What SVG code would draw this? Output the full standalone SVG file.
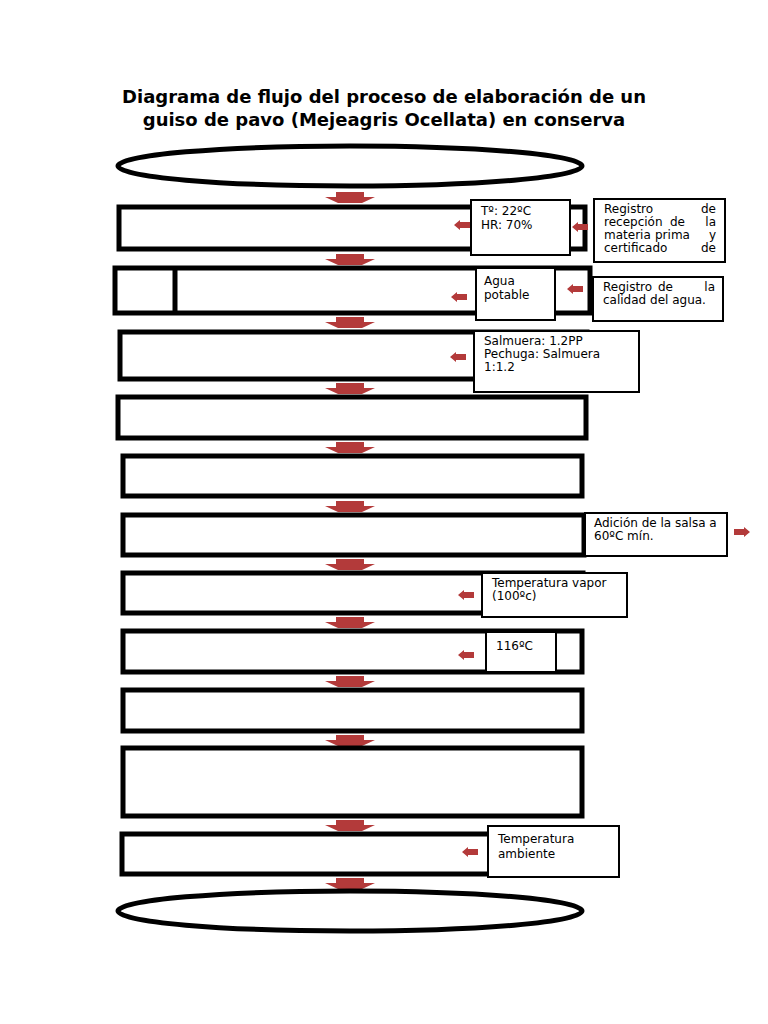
<svg xmlns="http://www.w3.org/2000/svg" width="768" height="1024" viewBox="0 0 768 1024">
<defs>
<style>
.t{font-family:"DejaVu Sans",sans-serif;font-size:12px;fill:#000}
.h{font-family:"DejaVu Sans",sans-serif;font-size:18px;font-weight:bold;fill:#000;text-anchor:middle}
.b{fill:#fff;stroke:#000;stroke-width:5}
.s{fill:#fff;stroke:#000;stroke-width:2}
.a{fill:#b33a3a}
</style>
<path id="dn" class="a" d="M-14,-5 H14 V0 H25 L12,6 H-12 L-25,0 H-14 Z"/>
<path id="lf" class="a" d="M8,-3 V3 H-2 V5 L-8,0 L-2,-5 V-3 Z"/>
</defs>
<rect width="768" height="1024" fill="#fff"/>
<text class="h" x="384" y="103">Diagrama de flujo del proceso de elaboración de un</text>
<text class="h" x="384" y="126">guiso de pavo (Mejeagris Ocellata) en conserva</text>
<g id="connectors">
<use href="#dn" x="350" y="197"/><use href="#dn" x="350" y="259"/><use href="#dn" x="350" y="322"/>
<use href="#dn" x="350" y="388"/><use href="#dn" x="350" y="447"/><use href="#dn" x="350" y="506"/>
<use href="#dn" x="350" y="564"/><use href="#dn" x="350" y="622"/><use href="#dn" x="350" y="681"/>
<use href="#dn" x="350" y="740"/><use href="#dn" x="350" y="825"/><use href="#dn" x="350" y="883"/>
</g>
<g id="n1"><ellipse class="b" cx="350" cy="166" rx="232" ry="20"/></g>
<g id="n2"><rect class="b" x="119" y="207" width="466" height="42"/></g>
<g id="n3"><rect class="b" x="115" y="268" width="475" height="45"/><line x1="175" y1="268" x2="175" y2="313" stroke="#000" stroke-width="5"/></g>
<g id="n4"><rect class="b" x="120" y="332" width="467" height="47"/></g>
<g id="n5"><rect class="b" x="118" y="397" width="468" height="41"/></g>
<g id="n6"><rect class="b" x="123" y="456" width="459" height="40"/></g>
<g id="n7"><rect class="b" x="123" y="515" width="461" height="40"/></g>
<g id="n8"><rect class="b" x="123" y="573" width="460" height="40"/></g>
<g id="n9"><rect class="b" x="123" y="631" width="459" height="41"/></g>
<g id="n10"><rect class="b" x="123" y="690" width="459" height="41"/></g>
<g id="n11"><rect class="b" x="123" y="748" width="459" height="68"/></g>
<g id="n12"><rect class="b" x="122" y="834" width="460" height="40"/></g>
<g id="n13"><ellipse class="b" cx="350" cy="911" rx="232" ry="20"/></g>
<g id="s1"><rect class="s" x="471" y="200" width="99" height="55"/><text class="t" x="481" y="215">Tº: 22ºC</text><text class="t" x="481" y="229">HR: 70%</text></g>
<g id="s2"><rect class="s" x="594" y="199" width="131" height="63"/>
<text class="t" x="604" y="213">Registro</text><text class="t" x="716" y="213" text-anchor="end">de</text>
<text class="t" x="604" y="226">recepción</text><text class="t" x="670" y="226">de</text><text class="t" x="716" y="226" text-anchor="end">la</text>
<text class="t" x="604" y="239">materia</text><text class="t" x="655" y="239">prima</text><text class="t" x="716" y="239" text-anchor="end">y</text>
<text class="t" x="604" y="252">certificado</text><text class="t" x="716" y="252" text-anchor="end">de</text></g>
<g id="s3"><rect class="s" x="476" y="268" width="79" height="52"/><text class="t" x="484" y="285">Agua</text><text class="t" x="484" y="299">potable</text></g>
<g id="s4"><rect class="s" x="593" y="277" width="130" height="44"/>
<text class="t" x="603" y="291">Registro</text><text class="t" x="658" y="291">de</text><text class="t" x="715" y="291" text-anchor="end">la</text>
<text class="t" x="603" y="304">calidad del agua.</text></g>
<g id="s5"><rect class="s" x="474" y="331" width="165" height="61"/>
<text class="t" x="484" y="345">Salmuera: 1.2PP</text><text class="t" x="484" y="358">Pechuga: Salmuera</text><text class="t" x="484" y="371">1:1.2</text></g>
<g id="s6"><rect class="s" x="585" y="513" width="142" height="43"/><text class="t" x="594" y="527">Adición de la salsa a</text><text class="t" x="594" y="540">60ºC mín.</text></g>
<g id="s7"><rect class="s" x="482" y="573" width="145" height="44"/><text class="t" x="492" y="587">Temperatura vapor</text><text class="t" x="492" y="600">(100ºc)</text></g>
<g id="s8"><rect class="s" x="486" y="632" width="70" height="40"/><text class="t" x="496" y="650">116ºC</text></g>
<g id="s9"><rect class="s" x="488" y="826" width="131" height="51"/><text class="t" x="498" y="843">Temperatura</text><text class="t" x="498" y="858">ambiente</text></g>
<g id="side-arrows">
<use href="#lf" x="462" y="225"/><use href="#lf" x="580" y="227"/><use href="#lf" x="459" y="297"/>
<use href="#lf" x="575" y="289"/><use href="#lf" x="458" y="357"/>
<use href="#lf" transform="translate(742,532) scale(-1,1)"/>
<use href="#lf" x="466" y="595"/><use href="#lf" x="466" y="655"/><use href="#lf" x="470" y="852"/>
</g>
</svg>
